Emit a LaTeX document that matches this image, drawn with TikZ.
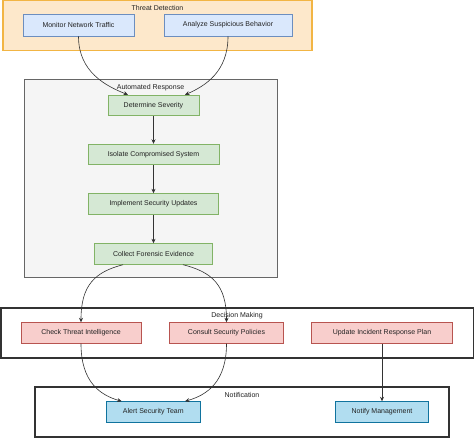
\documentclass[tikz,border=0pt]{standalone}
\usepackage{fontspec}
\setmainfont{Liberation Sans}
\usetikzlibrary{arrows.meta}
\definecolor{tdfill}{HTML}{FDE8CB}
\definecolor{tddraw}{HTML}{F2B544}
\definecolor{arfill}{HTML}{F5F5F5}
\definecolor{ardraw}{HTML}{666666}
\definecolor{bfill}{HTML}{DAE8FC}
\definecolor{bdraw}{HTML}{6C8EBF}
\definecolor{gfill}{HTML}{D5E8D4}
\definecolor{gdraw}{HTML}{82B366}
\definecolor{rfill}{HTML}{F8CECC}
\definecolor{rdraw}{HTML}{B85450}
\definecolor{cfill}{HTML}{B1DDF0}
\definecolor{cdraw}{HTML}{10739E}
\definecolor{txt}{HTML}{222222}
\definecolor{edge}{HTML}{333333}
\tikzset{
  box/.style={rectangle, draw, line width=0.9pt, inner sep=0pt, font=\fontsize{7}{8}\selectfont, text=txt},
  bluebox/.style={box, fill=bfill, draw=bdraw, minimum height=22pt},
  greenbox/.style={box, fill=gfill, draw=gdraw, minimum height=20.5pt},
  redbox/.style={box, fill=rfill, draw=rdraw, minimum height=20.5pt},
  cyanbox/.style={box, fill=cfill, draw=cdraw, minimum height=20.5pt},
  ctitle/.style={font=\fontsize{7}{8}\selectfont, text=txt, inner sep=0pt},
  conn/.style={draw=edge, line width=0.6pt, -{Stealth[length=4.5pt,width=4pt]}},
}
\begin{document}
\begin{tikzpicture}[x=1pt,y=-1pt]
\useasboundingbox (0,0) rectangle (474,438);
\fill[white] (0,0) rectangle (474,438);
% clusters
\draw[fill=tdfill, draw=tddraw, line width=1.2pt] (3,0.6) rectangle (312,50.5);
\node[ctitle] (tdt) at (157.5,8) {Threat Detection};
\draw[fill=arfill, draw=ardraw, line width=1pt] (24.5,80) rectangle (277,278);
\node[ctitle] (art) at (150.5,88) {Automated Response};
\draw[fill=white, draw=edge, line width=1.3pt] (1,308) rectangle (473.4,358);
\node[ctitle] (dmt) at (237,316) {Decision Making};
\draw[fill=white, draw=edge, line width=1.3pt] (35,387) rectangle (449,437);
\node[ctitle] (ntt) at (242,395) {Notification};
% nodes
\node[bluebox, minimum width=111pt] (mon) at (78.5,25) {Monitor Network Traffic};
\node[bluebox, minimum width=128pt] (ana) at (228,25) {Analyze Suspicious Behavior};
\node[greenbox, minimum width=91pt] (det) at (153.5,105.5) {Determine Severity};
\node[greenbox, minimum width=131pt] (iso) at (153.5,154.5) {Isolate Compromised System};
\node[greenbox, minimum width=130pt] (imp) at (153.5,204) {Implement Security Updates};
\node[greenbox, minimum width=118.5pt] (col) at (153.5,254) {Collect Forensic Evidence};
\node[redbox, minimum width=120pt] (chk) at (81,333) {Check Threat Intelligence};
\node[redbox, minimum width=113.5pt] (con) at (226.5,333) {Consult Security Policies};
\node[redbox, minimum width=141pt] (upd) at (382,333) {Update Incident Response Plan};
\node[cyanbox, minimum width=93.3pt] (alr) at (153.3,412) {Alert Security Team};
\node[cyanbox, minimum width=92.3pt] (ntf) at (382,412) {Notify Management};
% edges
\draw[conn] (mon.south) .. controls (78.5,72) and (106,86) .. ([xshift=-25.5pt]det.north);
\draw[conn] (ana.south) .. controls (228,72) and (205,86) .. ([xshift=31.5pt]det.north);
\draw[conn] (det) -- (iso);
\draw[conn] (iso) -- (imp);
\draw[conn] (imp) -- (col);
\draw[conn] ([xshift=-30.5pt]col.south) .. controls (95,272) and (81,285) .. (chk.north);
\draw[conn] ([xshift=29.5pt]col.south) .. controls (212,272) and (226.5,285) .. (con.north);
\draw[conn] (chk.south) .. controls (81,382) and (100,395) .. ([xshift=-31.6pt]alr.north);
\draw[conn] (con.south) .. controls (226.5,382) and (207,395) .. ([xshift=31.7pt]alr.north);
\draw[conn] (upd) -- (ntf);
\end{tikzpicture}
\end{document}
